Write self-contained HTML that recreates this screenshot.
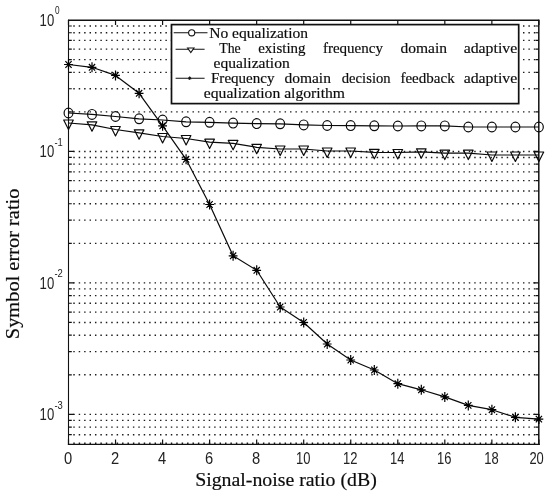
<!DOCTYPE html>
<html><head><meta charset="utf-8"><title>Symbol error ratio</title>
<style>html,body{margin:0;padding:0;background:#fff}svg{display:block}.s{font-family:"Liberation Serif",serif;fill:#0c0c0c;stroke:#0c0c0c;stroke-width:.18px}.a{font-family:"Liberation Sans",sans-serif;fill:#222}</style></head><body>
<svg width="550" height="492" viewBox="0 0 550 492">
<rect width="550" height="492" fill="#fff"/>
<g stroke="#1c1c1c" stroke-width="1.35" stroke-dasharray="1.45 3.968" fill="none">
<path d="M73.30 151.45H538.80"/>
<path d="M73.30 111.88H538.80"/>
<path d="M73.30 88.73H538.80"/>
<path d="M73.30 72.31H538.80"/>
<path d="M73.30 59.57H538.80"/>
<path d="M73.30 49.16H538.80"/>
<path d="M73.30 40.36H538.80"/>
<path d="M73.30 32.74H538.80"/>
<path d="M73.30 26.01H538.80"/>
<path d="M73.30 282.90H538.80"/>
<path d="M73.30 243.33H538.80"/>
<path d="M73.30 220.18H538.80"/>
<path d="M73.30 203.76H538.80"/>
<path d="M73.30 191.02H538.80"/>
<path d="M73.30 180.61H538.80"/>
<path d="M73.30 171.81H538.80"/>
<path d="M73.30 164.19H538.80"/>
<path d="M73.30 157.46H538.80"/>
<path d="M73.30 414.35H538.80"/>
<path d="M73.30 374.78H538.80"/>
<path d="M73.30 351.63H538.80"/>
<path d="M73.30 335.21H538.80"/>
<path d="M73.30 322.47H538.80"/>
<path d="M73.30 312.06H538.80"/>
<path d="M73.30 303.26H538.80"/>
<path d="M73.30 295.64H538.80"/>
<path d="M73.30 288.91H538.80"/>
<path d="M73.30 434.71H538.80"/>
<path d="M73.30 427.09H538.80"/>
<path d="M73.30 420.36H538.80"/>
<path d="M73.30 443.20H538.80"/>
</g>
<g stroke="#111" fill="none">
<path d="M68.5 20.2H538.8" stroke-width="1.4"/>
<path d="M68.5 19.5V445.09999999999997" stroke-width="1.1"/>
<path d="M67.9 444.4H539.8" stroke-width="1.3"/>
<path d="M538.8 19.5V445.09999999999997" stroke-width="1.5"/>
<path d="M68.50 444.4v-5M68.50 20.0v5M115.54 444.4v-5M115.54 20.0v5M162.58 444.4v-5M162.58 20.0v5M209.62 444.4v-5M209.62 20.0v5M256.66 444.4v-5M256.66 20.0v5M303.70 444.4v-5M303.70 20.0v5M350.74 444.4v-5M350.74 20.0v5M397.78 444.4v-5M397.78 20.0v5M444.82 444.4v-5M444.82 20.0v5M491.86 444.4v-5M491.86 20.0v5M538.90 444.4v-5M538.90 20.0v5M68.5 151.45h5.5M538.8 151.45h-5.5M68.5 111.88h3.3M538.8 111.88h-3.3M68.5 88.73h3.3M538.8 88.73h-3.3M68.5 72.31h3.3M538.8 72.31h-3.3M68.5 59.57h3.3M538.8 59.57h-3.3M68.5 49.16h3.3M538.8 49.16h-3.3M68.5 40.36h3.3M538.8 40.36h-3.3M68.5 32.74h3.3M538.8 32.74h-3.3M68.5 26.01h3.3M538.8 26.01h-3.3M68.5 282.90h5.5M538.8 282.90h-5.5M68.5 243.33h3.3M538.8 243.33h-3.3M68.5 220.18h3.3M538.8 220.18h-3.3M68.5 203.76h3.3M538.8 203.76h-3.3M68.5 191.02h3.3M538.8 191.02h-3.3M68.5 180.61h3.3M538.8 180.61h-3.3M68.5 171.81h3.3M538.8 171.81h-3.3M68.5 164.19h3.3M538.8 164.19h-3.3M68.5 157.46h3.3M538.8 157.46h-3.3M68.5 414.35h5.5M538.8 414.35h-5.5M68.5 374.78h3.3M538.8 374.78h-3.3M68.5 351.63h3.3M538.8 351.63h-3.3M68.5 335.21h3.3M538.8 335.21h-3.3M68.5 322.47h3.3M538.8 322.47h-3.3M68.5 312.06h3.3M538.8 312.06h-3.3M68.5 303.26h3.3M538.8 303.26h-3.3M68.5 295.64h3.3M538.8 295.64h-3.3M68.5 288.91h3.3M538.8 288.91h-3.3M68.5 434.71h3.3M538.8 434.71h-3.3M68.5 427.09h3.3M538.8 427.09h-3.3M68.5 420.36h3.3M538.8 420.36h-3.3" stroke-width="1.2"/>
</g>
<g class="a" font-size="16.5">
<text x="68.0" y="463.8" text-anchor="middle" textLength="8.2" lengthAdjust="spacingAndGlyphs">0</text>
<text x="115.0" y="463.8" text-anchor="middle" textLength="8.2" lengthAdjust="spacingAndGlyphs">2</text>
<text x="162.1" y="463.8" text-anchor="middle" textLength="8.2" lengthAdjust="spacingAndGlyphs">4</text>
<text x="209.1" y="463.8" text-anchor="middle" textLength="8.2" lengthAdjust="spacingAndGlyphs">6</text>
<text x="256.2" y="463.8" text-anchor="middle" textLength="8.2" lengthAdjust="spacingAndGlyphs">8</text>
<text x="303.2" y="463.8" text-anchor="middle" textLength="14.4" lengthAdjust="spacingAndGlyphs">10</text>
<text x="350.2" y="463.8" text-anchor="middle" textLength="14.4" lengthAdjust="spacingAndGlyphs">12</text>
<text x="397.3" y="463.8" text-anchor="middle" textLength="14.4" lengthAdjust="spacingAndGlyphs">14</text>
<text x="444.3" y="463.8" text-anchor="middle" textLength="14.4" lengthAdjust="spacingAndGlyphs">16</text>
<text x="491.4" y="463.8" text-anchor="middle" textLength="14.4" lengthAdjust="spacingAndGlyphs">18</text>
<text x="536.6" y="463.8" text-anchor="middle" textLength="14.4" lengthAdjust="spacingAndGlyphs">20</text>
<text x="39.6" y="25.8" textLength="14.6" lengthAdjust="spacingAndGlyphs">10</text>
<text x="55.0" y="14.2" font-size="11" textLength="4.6" lengthAdjust="spacingAndGlyphs">0</text>
<text x="39.6" y="157.2" textLength="14.6" lengthAdjust="spacingAndGlyphs">10</text>
<text x="54.4" y="145.6" font-size="11" textLength="8.4" lengthAdjust="spacingAndGlyphs">-1</text>
<text x="39.6" y="288.7" textLength="14.6" lengthAdjust="spacingAndGlyphs">10</text>
<text x="54.4" y="277.1" font-size="11" textLength="8.4" lengthAdjust="spacingAndGlyphs">-2</text>
<text x="39.6" y="420.1" textLength="14.6" lengthAdjust="spacingAndGlyphs">10</text>
<text x="54.4" y="408.5" font-size="11" textLength="8.4" lengthAdjust="spacingAndGlyphs">-3</text>
</g>
<g stroke="#0a0a0a" stroke-width="1.2" fill="none" stroke-linejoin="round">
<polyline points="68.5,113.0 92.0,114.4 115.5,116.5 139.1,118.8 162.6,120.0 186.1,121.8 209.6,122.3 233.1,123.1 256.7,123.6 280.2,123.8 303.7,124.9 327.2,125.5 350.7,125.6 374.3,125.8 397.8,126.0 421.3,125.9 444.8,125.9 468.3,127.0 491.9,127.0 515.4,127.0 538.9,127.0"/>
<polyline points="68.5,123.0 92.0,124.8 115.5,129.5 139.1,132.8 162.6,136.5 186.1,138.5 209.6,142.2 233.1,143.4 256.7,147.3 280.2,149.0 303.7,149.0 327.2,151.0 350.7,151.0 374.3,152.4 397.8,152.5 421.3,151.8 444.8,153.2 468.3,153.2 491.9,155.0 515.4,155.0 538.9,155.0"/>
<polyline points="68.5,64.5 92.0,67.3 115.5,75.4 139.1,93.3 162.6,125.8 186.1,159.3 209.6,204.5 233.1,255.8 256.7,270.3 280.2,307.0 303.7,322.5 327.2,344.0 350.7,360.0 374.3,370.0 397.8,383.7 421.3,389.8 444.8,396.9 468.3,405.4 491.9,409.7 515.4,417.3 538.9,419.1"/>
<ellipse cx="68.5" cy="113.0" rx="4.4" ry="4.9"/>
<ellipse cx="92.0" cy="114.4" rx="4.4" ry="4.9"/>
<ellipse cx="115.5" cy="116.5" rx="4.4" ry="4.9"/>
<ellipse cx="139.1" cy="118.8" rx="4.4" ry="4.9"/>
<ellipse cx="162.6" cy="120.0" rx="4.4" ry="4.9"/>
<ellipse cx="186.1" cy="121.8" rx="4.4" ry="4.9"/>
<ellipse cx="209.6" cy="122.3" rx="4.4" ry="4.9"/>
<ellipse cx="233.1" cy="123.1" rx="4.4" ry="4.9"/>
<ellipse cx="256.7" cy="123.6" rx="4.4" ry="4.9"/>
<ellipse cx="280.2" cy="123.8" rx="4.4" ry="4.9"/>
<ellipse cx="303.7" cy="124.9" rx="4.4" ry="4.9"/>
<ellipse cx="327.2" cy="125.5" rx="4.4" ry="4.9"/>
<ellipse cx="350.7" cy="125.6" rx="4.4" ry="4.9"/>
<ellipse cx="374.3" cy="125.8" rx="4.4" ry="4.9"/>
<ellipse cx="397.8" cy="126.0" rx="4.4" ry="4.9"/>
<ellipse cx="421.3" cy="125.9" rx="4.4" ry="4.9"/>
<ellipse cx="444.8" cy="125.9" rx="4.4" ry="4.9"/>
<ellipse cx="468.3" cy="127.0" rx="4.4" ry="4.9"/>
<ellipse cx="491.9" cy="127.0" rx="4.4" ry="4.9"/>
<ellipse cx="515.4" cy="127.0" rx="4.4" ry="4.9"/>
<ellipse cx="538.9" cy="127.0" rx="4.4" ry="4.9"/>
<path d="M63.7 120.0h9.6l-4.8 9.4zM87.2 121.8h9.6l-4.8 9.4zM110.7 126.5h9.6l-4.8 9.4zM134.3 129.8h9.6l-4.8 9.4zM157.8 133.5h9.6l-4.8 9.4zM181.3 135.5h9.6l-4.8 9.4zM204.8 139.2h9.6l-4.8 9.4zM228.3 140.4h9.6l-4.8 9.4zM251.9 144.3h9.6l-4.8 9.4zM275.4 146.0h9.6l-4.8 9.4zM298.9 146.0h9.6l-4.8 9.4zM322.4 148.0h9.6l-4.8 9.4zM345.9 148.0h9.6l-4.8 9.4zM369.5 149.4h9.6l-4.8 9.4zM393.0 149.5h9.6l-4.8 9.4zM416.5 148.8h9.6l-4.8 9.4zM440.0 150.2h9.6l-4.8 9.4zM463.5 150.2h9.6l-4.8 9.4zM487.1 152.0h9.6l-4.8 9.4zM510.6 152.0h9.6l-4.8 9.4zM534.1 152.0h9.6l-4.8 9.4z"/>
<path d="M64.1 64.5h8.8M68.5 59.5v10M65.4 61.2l6.2 6.6M65.4 67.8l6.2 -6.6M87.6 67.3h8.8M92.0 62.3v10M88.9 64.0l6.2 6.6M88.9 70.6l6.2 -6.6M111.1 75.4h8.8M115.5 70.4v10M112.4 72.1l6.2 6.6M112.4 78.7l6.2 -6.6M134.7 93.3h8.8M139.1 88.3v10M136.0 90.0l6.2 6.6M136.0 96.6l6.2 -6.6M158.2 125.8h8.8M162.6 120.8v10M159.5 122.5l6.2 6.6M159.5 129.1l6.2 -6.6M181.7 159.3h8.8M186.1 154.3v10M183.0 156.0l6.2 6.6M183.0 162.6l6.2 -6.6M205.2 204.5h8.8M209.6 199.5v10M206.5 201.2l6.2 6.6M206.5 207.8l6.2 -6.6M228.7 255.8h8.8M233.1 250.8v10M230.0 252.5l6.2 6.6M230.0 259.1l6.2 -6.6M252.3 270.3h8.8M256.7 265.3v10M253.6 267.0l6.2 6.6M253.6 273.6l6.2 -6.6M275.8 307.0h8.8M280.2 302.0v10M277.1 303.7l6.2 6.6M277.1 310.3l6.2 -6.6M299.3 322.5h8.8M303.7 317.5v10M300.6 319.2l6.2 6.6M300.6 325.8l6.2 -6.6M322.8 344.0h8.8M327.2 339.0v10M324.1 340.7l6.2 6.6M324.1 347.3l6.2 -6.6M346.3 360.0h8.8M350.7 355.0v10M347.6 356.7l6.2 6.6M347.6 363.3l6.2 -6.6M369.9 370.0h8.8M374.3 365.0v10M371.2 366.7l6.2 6.6M371.2 373.3l6.2 -6.6M393.4 383.7h8.8M397.8 378.7v10M394.7 380.4l6.2 6.6M394.7 387.0l6.2 -6.6M416.9 389.8h8.8M421.3 384.8v10M418.2 386.5l6.2 6.6M418.2 393.1l6.2 -6.6M440.4 396.9h8.8M444.8 391.9v10M441.7 393.6l6.2 6.6M441.7 400.2l6.2 -6.6M463.9 405.4h8.8M468.3 400.4v10M465.2 402.1l6.2 6.6M465.2 408.7l6.2 -6.6M487.5 409.7h8.8M491.9 404.7v10M488.8 406.4l6.2 6.6M488.8 413.0l6.2 -6.6M511.0 417.3h8.8M515.4 412.3v10M512.3 414.0l6.2 6.6M512.3 420.6l6.2 -6.6M534.5 419.1h8.8M538.9 414.1v10M535.8 415.8l6.2 6.6M535.8 422.4l6.2 -6.6" stroke-width="1.2" stroke="#000"/>
</g>
<rect x="171.5" y="24.6" width="347.2" height="79" fill="#fff" stroke="#111" stroke-width="1.7"/>
<g stroke="#111" stroke-width="1.1" fill="none">
<path d="M173.7 32.8H207.5M175.6 49.2H204.6M175.6 78.2H204.6"/>
<circle cx="191.7" cy="32.8" r="3.1" fill="#fff"/>
<path d="M187.6 48.0h6.4l-3.2 4.5z" fill="#fff"/>
<path d="M188.2 78.2h3M189.7 76.4v3.6M188.7 77.1l2 2.2M188.7 79.3l2-2.2" stroke-width="1"/>
</g>
<text class="s" x="209.2" y="37.9" font-size="15.4" textLength="98.8" lengthAdjust="spacingAndGlyphs">No equalization</text>
<text class="s" x="219.2" y="52.9" font-size="15.4" textLength="21.5" lengthAdjust="spacingAndGlyphs">The</text>
<text class="s" x="258.2" y="52.9" font-size="15.4" textLength="47.3" lengthAdjust="spacingAndGlyphs">existing</text>
<text class="s" x="322.9" y="52.9" font-size="15.4" textLength="60" lengthAdjust="spacingAndGlyphs">frequency</text>
<text class="s" x="400.4" y="52.9" font-size="15.4" textLength="46.6" lengthAdjust="spacingAndGlyphs">domain</text>
<text class="s" x="463.7" y="52.9" font-size="15.4" textLength="53.5" lengthAdjust="spacingAndGlyphs">adaptive</text>
<text class="s" x="213.6" y="67.8" font-size="15.4" textLength="76.2" lengthAdjust="spacingAndGlyphs">equalization</text>
<text class="s" x="211" y="82.8" font-size="15.4" textLength="63.5" lengthAdjust="spacingAndGlyphs">Frequency</text>
<text class="s" x="284.4" y="82.8" font-size="15.4" textLength="46.5" lengthAdjust="spacingAndGlyphs">domain</text>
<text class="s" x="341.8" y="82.8" font-size="15.4" textLength="48.8" lengthAdjust="spacingAndGlyphs">decision</text>
<text class="s" x="400.4" y="82.8" font-size="15.4" textLength="54.3" lengthAdjust="spacingAndGlyphs">feedback</text>
<text class="s" x="463.7" y="82.8" font-size="15.4" textLength="53.5" lengthAdjust="spacingAndGlyphs">adaptive</text>
<text class="s" x="203.8" y="97.8" font-size="15.4" textLength="141.2" lengthAdjust="spacingAndGlyphs">equalization algorithm</text>
<text class="s" x="195.2" y="485.5" font-size="19" textLength="181.6" lengthAdjust="spacingAndGlyphs">Signal-noise ratio (dB)</text>
<text class="s" font-size="19" transform="translate(18.8 339.2) rotate(-90)" textLength="150.6" lengthAdjust="spacingAndGlyphs">Symbol error ratio</text>
</svg></body></html>
